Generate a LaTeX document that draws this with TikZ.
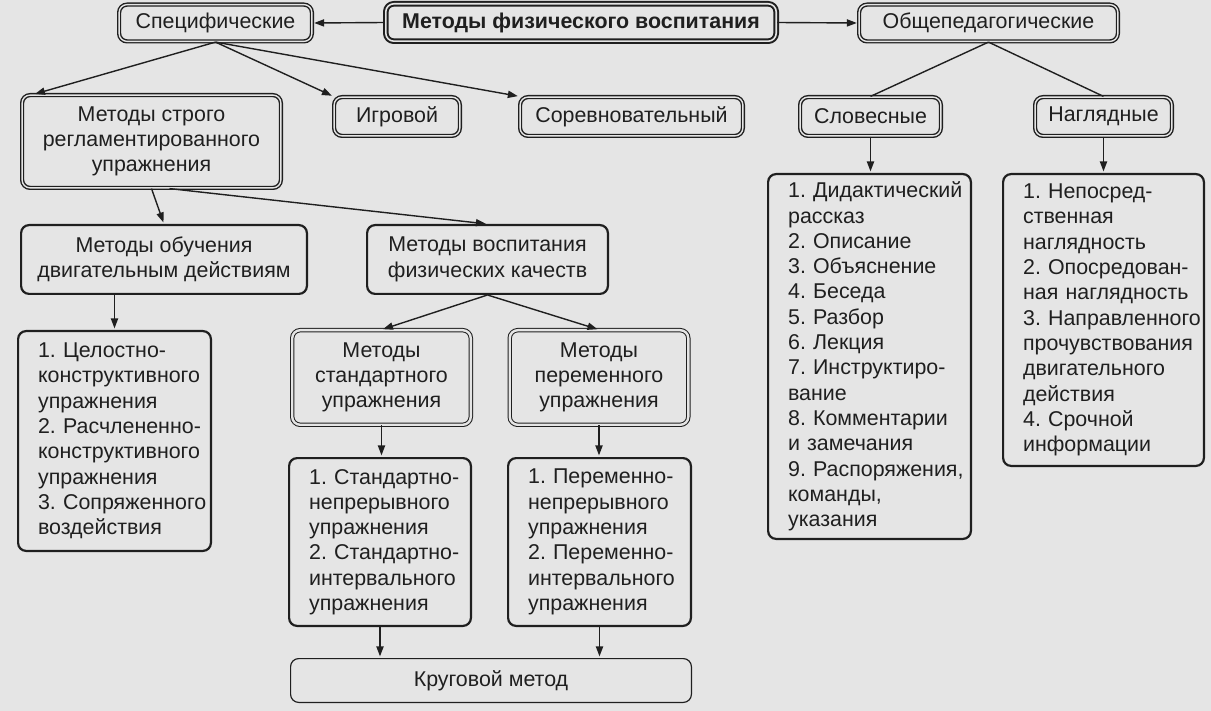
\documentclass[tikz,border=0pt]{standalone}
\usepackage{fontspec}
\setmainfont{Liberation Sans}
\usetikzlibrary{arrows.meta}
\definecolor{paper}{gray}{0.9}
\definecolor{ink}{gray}{0.12}
\begin{document}
\begin{tikzpicture}[x=0.5pt,y=-0.5pt,
	every node/.style={rounded corners=4pt,inner sep=0pt,text=ink,
	font=\fontsize{10.7}{12.65}\selectfont},
	dbl/.style={draw=ink,line width=0.7pt,double=paper,double distance=0.7pt,align=center},
	thin dbl/.style={draw=ink,line width=0.5pt,double=paper,double distance=1.2pt,align=center},
	box/.style={draw=ink,line width=1.1pt,align=center},
	list/.style={draw=ink,line width=1.1pt,align=left,text width=#1,
	execute at begin node={\leftskip=10pt}},
	link/.style={draw=ink,line width=0.7pt},
	arr/.style={link,shorten >=0.8pt,-{Triangle[length=5pt,width=3.6pt]}}]
\useasboundingbox (0,0) rectangle (1211,711);
\fill[paper] (0,0) rectangle (1211,711);
\node[dbl,line width=1pt,double distance=0.8pt,font=\fontsize{10.7}{12.65}\selectfont\bfseries,
	minimum width=195.2pt,minimum height=18.7pt] (main) at (581,22.5) {Методы физического воспитания};
\node[dbl,minimum width=96.4pt,minimum height=18.4pt] (spec) at (215.5,23) {Специфические};
\node[dbl,minimum width=129.4pt,minimum height=18.4pt] (obsh) at (988.5,23) {Общепедагогические};
\node[dbl,minimum width=129.4pt,minimum height=46.4pt] (strogo) at (151.5,141.5) {Методы строго\\регламентированного\\упражнения};
\node[dbl,minimum width=62.9pt,minimum height=19.4pt] (igr) at (397,116.5) {Игровой};
\node[dbl,minimum width=111.4pt,minimum height=19.4pt] (sorev) at (631.5,116.5) {Соревновательный};
\node[dbl,minimum width=70.4pt,minimum height=19.4pt] (slov) at (870.5,116.5) {Словесные};
\node[dbl,minimum width=68.4pt,minimum height=19.4pt] (nagl) at (1103.5,116.5) {Наглядные};
\node[box,minimum width=142.9pt,minimum height=34.4pt] (obuch) at (164,259.5) {Методы обучения\\двигательным действиям};
\node[box,minimum width=120.4pt,minimum height=34.4pt] (vosp) at (487.5,259.5) {Методы воспитания\\физических качеств};
\node[thin dbl,minimum width=89.3pt,minimum height=47.3pt] (stand) at (381.5,377.5) {Методы\\стандартного\\упражнения};
\node[thin dbl,minimum width=89.3pt,minimum height=47.3pt] (perem) at (599,377.5) {Методы\\переменного\\упражнения};
\node[list=96.4pt,minimum height=109.9pt] (celost) at (114.5,441) {1.~Целостно-\\конструктивного\\упражнения\\2.~Расчлененно-\\конструктивного\\упражнения\\3.~Сопряженного\\воздействия};
\node[list=90.9pt,minimum height=83.9pt] (standlist) at (380,542) {1.~Стандартно-\\непрерывного\\упражнения\\2.~Стандартно-\\интервального\\упражнения};
\node[list=91.4pt,minimum height=83.9pt] (peremlist) at (599.5,542) {1.~Переменно-\\непрерывного\\упражнения\\2.~Переменно-\\интервального\\упражнения};
\node[draw=ink,line width=0.6pt,minimum width=200.4pt,minimum height=21.9pt] (krug) at (491,680.5) {Круговой метод};
\node[list=101.4pt,minimum height=182.4pt] (slovlist) at (869.5,356.5) {1.~Дидактический\\рассказ\\2.~Описание\\3.~Объяснение\\4.~Беседа\\5.~Разбор\\6.~Лекция\\7.~Инструктиро-\\вание\\8.~Комментарии\\и~замечания\\9.~Распоряжения,\\команды,\\указания};
\node[list=100.4pt,minimum height=145.9pt] (nagllist) at (1103.5,320) {1.~Непосред-\\ственная\\наглядность\\2.~Опосредован-\\ная~наглядность\\3.~Направленного\\прочувствования\\двигательного\\действия\\4.~Срочной\\информации};
\draw[arr] (main.west) -- (spec.east);
\draw[arr] (main.east) -- (obsh.west);
\draw[arr] (spec.south) -- ([xshift=6pt]strogo.north west);
\draw[arr] (spec.south) -- (igr.north west);
\draw[arr] (spec.south) -- (sorev.north west);
\draw[link] (obsh.south) -- (slov.north);
\draw[link] (obsh.south) -- (nagl.north);
\draw[arr] (slov.south) -- (slovlist.north -| slov.south);
\draw[arr] (nagl.south) -- (nagllist.north -| nagl.south);
\draw[arr] (strogo.south) -- (obuch.north);
\draw[arr] ([xshift=9pt]strogo.south) -- (vosp.north);
\draw[arr] (obuch.south -| celost.north) -- (celost.north);
\draw[arr] (vosp.south) -- (stand.north);
\draw[arr] (vosp.south) -- (perem.north);
\draw[arr] (stand.south) -- (standlist.north -| stand.south);
\draw[arr] (perem.south) -- (peremlist.north -| perem.south);
\draw[arr] (standlist.south) -- (standlist.south |- krug.north);
\draw[arr] (peremlist.south) -- (peremlist.south |- krug.north);
\end{tikzpicture}
\end{document}
